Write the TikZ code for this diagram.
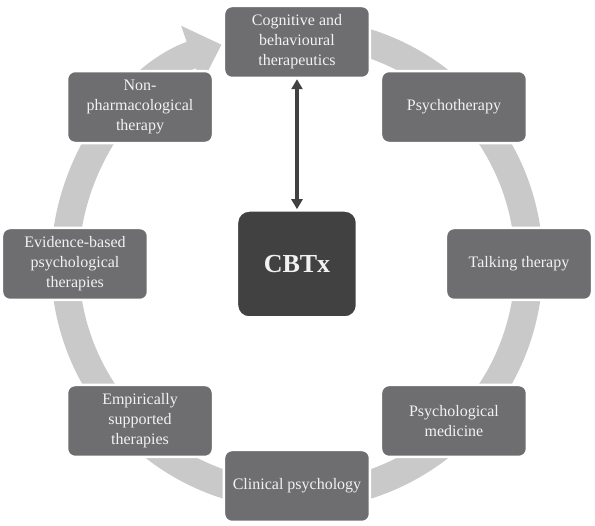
\documentclass[tikz,border=0pt]{standalone}
\usepackage{fontspec}
\setmainfont{Liberation Serif}
\usepackage{tikz}
\usetikzlibrary{arrows.meta, positioning}

\definecolor{boxgray}{HTML}{6E6E70}
\definecolor{ringgray}{HTML}{C9C9C9}
\definecolor{coregray}{HTML}{414141}
\definecolor{textwhite}{HTML}{F2F2F2}

\begin{document}
\begin{tikzpicture}[x=1pt, y=1pt,
        base/.style={draw=white, line width=2.5pt, rectangle, rounded corners=8pt, minimum width=146pt, minimum height=72pt, align=center, fill=boxgray, text=textwhite, font=\fontsize{16}{20}\selectfont},
        core/.style={base, fill=coregray, minimum width=120pt, minimum height=107pt, rounded corners=12pt, font=\fontsize{26}{30}\selectfont\bfseries},
        ring/.style={draw=ringgray, line width=28pt, -{Triangle[length=32pt, width=60pt]}},
        arrow/.style={{Triangle[length=10pt, width=11pt]}-{Triangle[length=10pt, width=11pt]}, line width=3.5pt, draw=coregray}
    ]
    \useasboundingbox (-297,-262) rectangle (298,264);

    % Ring behind the boxes
    \draw[ring] (80:232) arc[start angle=80, end angle=-251, radius=232];

    % Outer boxes, clockwise from top
    \node[base] (cognitive) at (90:222) {Cognitive and\\behavioural\\therapeutics};
    \node[base] (psychotherapy) at (45:222) {Psychotherapy};
    \node[base] (talking) at (0:222) {Talking therapy};
    \node[base] (medicine) at (-45:222) {Psychological\\medicine};
    \node[base] (clinical) at (-90:222) {Clinical psychology};
    \node[base] (empirical) at (-135:222) {Empirically\\supported\\therapies};
    \node[base] (evidence) at (180:222) {Evidence-based\\psychological\\therapies};
    \node[base] (nonpharma) at (135:222) {Non-\\pharmacological\\therapy};

    % Center
    \node[core] (cbtx) at (0,0) {CBTx};

    \draw[arrow] (cbtx.north) -- (cognitive.south);
\end{tikzpicture}
\end{document}
